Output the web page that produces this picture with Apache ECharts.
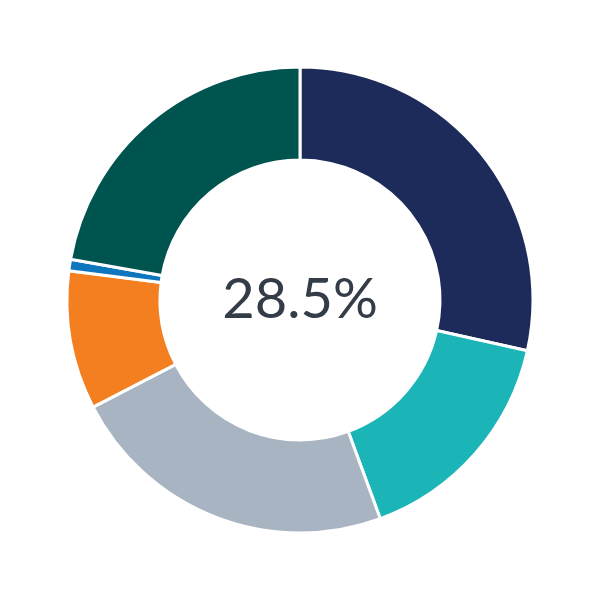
<!DOCTYPE html>
<html>
<head>
<meta charset="utf-8">
<script src="https://cdn.jsdelivr.net/npm/echarts@6/dist/echarts.min.js"></script>
<style>
  html, body { margin: 0; padding: 0; background: #fff; }
  #main { width: 600px; height: 600px; }
</style>
</head>
<body>
<div id="main"></div>
<script>
const categories = ["A", "B", "C", "D", "E", "F"];
const values = [28.5, 15.9, 23.0, 9.6, 0.8, 22.2];
const colors = ["#1c2b5a", "#1bb5b8", "#a9b4c2", "#f47f20", "#0e76bc", "#00544f"];
const centerLabel = "28.5%";

const chart = echarts.init(document.getElementById("main"), null, { renderer: "canvas" });

const option = {
  animation: false,
  title: {
    text: centerLabel,
    left: "center",
    top: "center",
    textStyle: {
      fontFamily: "Lato",
      fontSize: 56,
      fontWeight: "normal",
      color: "#333c47",
    },
  },
  series: [
    {
      type: "pie",
      radius: [140, 233],
      center: ["50%", "50%"],
      startAngle: 90,
      clockwise: true,
      avoidLabelOverlap: false,
      label: { show: false },
      labelLine: { show: false },
      itemStyle: { borderColor: "#fff", borderWidth: 3 },
      data: categories.map((name, i) => ({
        name,
        value: values[i],
        itemStyle: { color: colors[i] },
      })),
    },
  ],
};

chart.setOption(option, true);
</script>
</body>
</html>
